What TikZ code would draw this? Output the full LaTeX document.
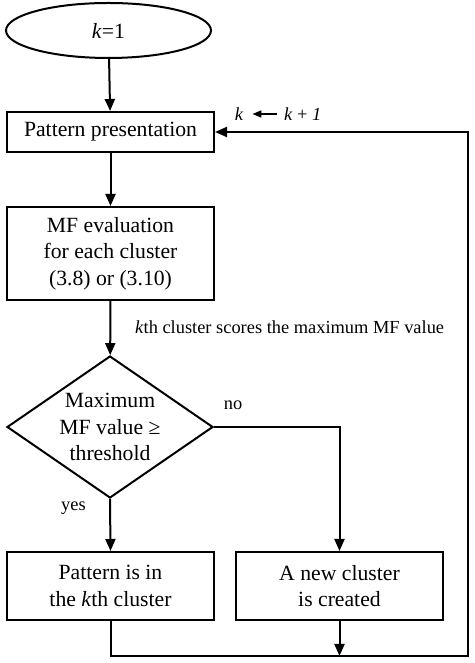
\documentclass[tikz,border=0pt]{standalone}
\usepackage{fontspec}
\setmainfont{Liberation Serif}
\usetikzlibrary{shapes.geometric,arrows.meta}

\newcommand{\bigtxt}{\fontsize{21.7}{26.7}\selectfont}
\newcommand{\smalltxt}{\fontsize{18.4}{22}\selectfont}

\begin{document}
\begin{tikzpicture}[
        x=1pt, y=1pt,
        % Stili dei blocchi
        term_node/.style={ellipse, draw, line width=2pt, minimum width=205pt, minimum height=55pt, inner sep=0pt, font=\bigtxt},
        proc_box/.style={rectangle, draw, line width=2pt, minimum width=207pt, inner sep=0pt, align=center, font=\bigtxt},
        decision/.style={diamond, draw, line width=2pt, minimum width=206pt, minimum height=142pt, inner sep=-8pt, align=center, font=\bigtxt},
        % Stili delle frecce e delle etichette
        flow/.style={line width=2pt, line join=miter, -{Triangle[length=12pt,width=10pt]}},
        lbl/.style={inner sep=0pt, font=\smalltxt}
    ]

    \useasboundingbox (0,0) rectangle (474,663);

    % ==============================
    % 1. BLOCCHI PRINCIPALI
    % ==============================
    \node[term_node] (start) at (108.5,632.5) {\textit{k}=1};
    \node[proc_box, minimum height=40pt] (present) at (110.5,531) {Pattern presentation};
    \node[proc_box, minimum height=93pt] (mfeval) at (110.5,409.5) {MF evaluation\\for each cluster\\(3.8) or (3.10)};
    \node[decision] (check) at (110,236) {Maximum\\MF value ≥\\threshold};

    % Esiti del confronto
    \node[proc_box, minimum height=68pt] (incluster) at (110.5,77) {Pattern is in\\the \textit{k}th cluster};
    \node[proc_box, minimum height=68pt] (newcluster) at (339.5,77) {A new cluster\\is created};

    % ==============================
    % 2. ETICHETTE
    % ==============================
    \node[lbl, anchor=west] (kth_lbl) at (135,336) {\textit{k}th cluster scores the maximum MF value};
    \node[lbl] (no_lbl) at (233,258) {no};
    \node[lbl] (yes_lbl) at (73.5,155) {yes};
    % Incremento k <- k + 1
    \node[lbl] (k_old) at (239,549) {\textit{k}};
    \node[lbl, anchor=west] (k_new) at (284,549) {\textit{k} + \textit{1}};
    \draw[line width=1.6pt, shorten <=7pt, shorten >=9pt, -{Triangle[length=9pt,width=7pt]}] (k_new.west) -- (k_old.east);

    % ==============================
    % 3. COLLEGAMENTI
    % ==============================
    \coordinate (loop) at (468,7);
    \draw[flow] (start) -- (present);
    \draw[flow] (present) -- (mfeval);
    \draw[flow] (mfeval) -- (check);
    \draw[flow] (check.south) -- (incluster.north);
    \draw[flow] (check.east) -| (newcluster.north);
    % Ritorno al blocco iniziale
    \draw[flow] (incluster.south) |- (loop) |- (present.east);
    \draw[flow] (newcluster.south) -- (newcluster.south |- loop);

\end{tikzpicture}
\end{document}
